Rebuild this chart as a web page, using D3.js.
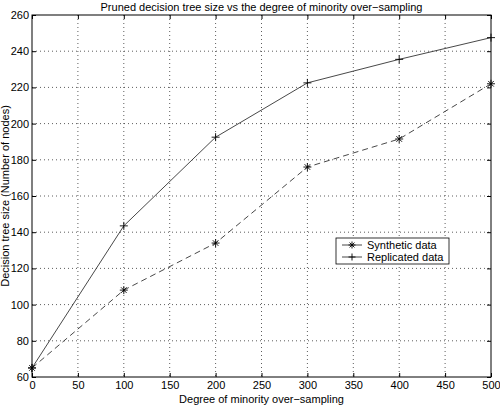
<!DOCTYPE html>
<html>
<head>
<meta charset="utf-8">
<script src="https://cdn.jsdelivr.net/npm/d3@7"></script>
<style>
  body { margin: 0; background: #fff; }
  svg { display: block; font-family: "Liberation Sans", Arial, sans-serif; }
</style>
</head>
<body>
<div id="chart"></div>
<script>
// ── Data ─────────────────────────────────────────────────────────
const degrees = [0, 100, 200, 300, 400, 500];
const synthetic = [65, 108, 134, 176, 191.5, 222];
const replicated = [65, 143.5, 192.5, 222.5, 235.5, 247.5];
const xTicks = [0, 50, 100, 150, 200, 250, 300, 350, 400, 450, 500];
const yTicks = [60, 80, 100, 120, 140, 160, 180, 200, 220, 240, 260];

const w = 500, h = 405;
const margin = { top: 15, right: 9, bottom: 28, left: 32 };
const iw = w - margin.left - margin.right;
const ih = h - margin.top - margin.bottom;

const svg = d3.select('#chart').append('svg')
  .attr('width', w)
  .attr('height', h);

const g = svg.append('g')
  .attr('transform', `translate(${margin.left},${margin.top})`);

const x = d3.scaleLinear().domain([0, 500]).range([0, iw]);
const y = d3.scaleLinear().domain([60, 260]).range([ih, 0]);

// ── Grid (dotted) ────────────────────────────────────────────────
g.append('g').selectAll('line')
  .data(xTicks.slice(1, -1))
  .enter().append('line')
  .attr('x1', d => x(d)).attr('x2', d => x(d))
  .attr('y1', 0).attr('y2', ih)
  .attr('stroke', '#333').attr('stroke-width', 0.8)
  .attr('stroke-dasharray', '1,3');

g.append('g').selectAll('line')
  .data(yTicks.slice(1, -1))
  .enter().append('line')
  .attr('x1', 0).attr('x2', iw)
  .attr('y1', d => y(d)).attr('y2', d => y(d))
  .attr('stroke', '#333').attr('stroke-width', 0.8)
  .attr('stroke-dasharray', '1,3');

// ── Axes (ticks inside, all four sides) ──────────────────────────
function styleAxis(sel) {
  sel.selectAll('.domain').remove();
  sel.selectAll('.tick line').attr('stroke', '#000');
  sel.selectAll('text').attr('fill', '#000').attr('font-size', '11px');
}

g.append('g')
  .attr('transform', `translate(0,${ih})`)
  .call(d3.axisBottom(x).tickValues(xTicks).tickSize(-4).tickPadding(4))
  .call(styleAxis);

g.append('g')
  .call(d3.axisTop(x).tickValues(xTicks).tickSize(-4).tickFormat(''))
  .call(styleAxis);

g.append('g')
  .call(d3.axisLeft(y).tickValues(yTicks).tickSize(-4).tickPadding(3))
  .call(styleAxis);

g.append('g')
  .attr('transform', `translate(${iw},0)`)
  .call(d3.axisRight(y).tickValues(yTicks).tickSize(-4).tickFormat(''))
  .call(styleAxis);

g.append('rect')
  .attr('width', iw).attr('height', ih)
  .attr('fill', 'none').attr('stroke', '#000').attr('stroke-width', 1);

// ── Series ───────────────────────────────────────────────────────
const line = d3.line()
  .x((d, i) => x(degrees[i]))
  .y(d => y(d));

g.append('path')
  .datum(synthetic)
  .attr('d', line)
  .attr('fill', 'none').attr('stroke', '#333').attr('stroke-width', 0.9)
  .attr('stroke-dasharray', '6,4');

g.append('path')
  .datum(replicated)
  .attr('d', line)
  .attr('fill', 'none').attr('stroke', '#333').attr('stroke-width', 0.9);

function plusMarker(sel, r) {
  sel.append('line').attr('x1', -r).attr('x2', r).attr('y1', 0).attr('y2', 0);
  sel.append('line').attr('x1', 0).attr('x2', 0).attr('y1', -r).attr('y2', r);
}
function starMarker(sel, r) {
  plusMarker(sel, r);
  const k = r * 0.7;
  sel.append('line').attr('x1', -k).attr('x2', k).attr('y1', -k).attr('y2', k);
  sel.append('line').attr('x1', -k).attr('x2', k).attr('y1', k).attr('y2', -k);
}

g.append('g').selectAll('g')
  .data(synthetic)
  .enter().append('g')
  .attr('transform', (d, i) => `translate(${x(degrees[i])},${y(d)})`)
  .attr('stroke', '#000').attr('stroke-width', 0.9)
  .each(function() { starMarker(d3.select(this), 4); });

g.append('g').selectAll('g')
  .data(replicated)
  .enter().append('g')
  .attr('transform', (d, i) => `translate(${x(degrees[i])},${y(d)})`)
  .attr('stroke', '#000').attr('stroke-width', 0.9)
  .each(function() { plusMarker(d3.select(this), 4); });

// ── Legend ───────────────────────────────────────────────────────
const legend = svg.append('g').attr('transform', 'translate(336,238)');
legend.append('rect')
  .attr('width', 113).attr('height', 26)
  .attr('fill', '#fff').attr('stroke', '#000').attr('stroke-width', 0.8);

const legendItems = [
  { name: 'Synthetic data', marker: starMarker },
  { name: 'Replicated data', marker: plusMarker }
];
legendItems.forEach((item, i) => {
  const row = legend.append('g').attr('transform', `translate(0,${7 + i * 12})`);
  row.append('line').attr('x1', 6).attr('x2', 26)
    .attr('stroke', '#333').attr('stroke-width', 0.9);
  const m = row.append('g').attr('transform', 'translate(16,0)')
    .attr('stroke', '#000').attr('stroke-width', 0.9);
  item.marker(m, 3.5);
  row.append('text')
    .attr('x', 31).attr('y', 4)
    .attr('font-size', '11px').attr('fill', '#000')
    .text(item.name);
});

// ── Titles ───────────────────────────────────────────────────────
svg.append('text')
  .attr('x', margin.left + iw / 2).attr('y', 11)
  .attr('text-anchor', 'middle')
  .attr('font-size', '11px').attr('fill', '#000')
  .text('Pruned decision tree size vs the degree of minority over\u2212sampling');

svg.append('text')
  .attr('x', margin.left + iw / 2).attr('y', 403)
  .attr('text-anchor', 'middle')
  .attr('font-size', '11px').attr('fill', '#000')
  .text('Degree of minority over\u2212sampling');

svg.append('text')
  .attr('transform', `translate(9,${margin.top + ih / 2}) rotate(-90)`)
  .attr('text-anchor', 'middle')
  .attr('font-size', '11px').attr('fill', '#000')
  .text('Decision tree size (Number of nodes)');
</script>
</body>
</html>
